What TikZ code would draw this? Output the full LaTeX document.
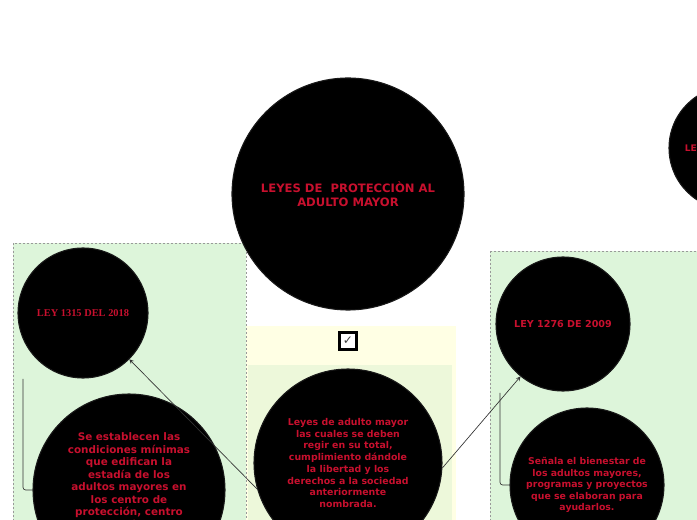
\documentclass[tikz,border=0pt]{standalone}
\usepackage{fontspec}
\setmainfont{DejaVu Sans}
\newfontfamily\serifb{Liberation Serif}
\newfontfamily\symb{DejaVu Sans}
\usetikzlibrary{arrows, calc}

\definecolor{leyred}{RGB}{200,16,46}
\definecolor{boxgreen}{RGB}{221,245,218}
\definecolor{boxyellow}{RGB}{255,255,228}
\definecolor{innergreen}{RGB}{237,248,218}
\definecolor{rimgray}{RGB}{25,25,25}

\begin{document}
\begin{tikzpicture}[x=0.75pt, y=-0.75pt, >=stealth,
        ley/.style={circle, fill=black, draw=rimgray, line width=0.8pt, inner sep=0pt,
                    text=leyred, font=\bfseries, align=center},
        area/.style={draw=gray!80, dash pattern=on 1.5pt off 1.5pt, line width=0.6pt},
        link/.style={draw=black!80, line width=0.5pt}]
    \useasboundingbox (0,0) rectangle (697,520);
    \clip (0,0) rectangle (697,520);
    % groups
    \fill[boxyellow] (246,326) rectangle (456,530);
    \fill[innergreen] (248,365) rectangle (452,530);
    \filldraw[fill=boxgreen, area] (13,243) rectangle (246,540);
    \filldraw[fill=boxgreen, area] (490,251) rectangle (710,540);
    % circles
    \node[ley, minimum size=174pt, font=\bfseries\fontsize{8.7}{10.5}\selectfont] (main) at (348,194)
        {LEYES DE\ \ PROTECCIÒN AL\\ADULTO MAYOR};
    \node[ley, minimum size=93pt, font=\bfseries\fontsize{6.8}{8}\selectfont] (ley3) at (731,148)
        {LEY 1251 DE 2008};
    \node[ley, minimum size=97.5pt, font=\serifb\bfseries\fontsize{7.8}{9}\selectfont] (l1315) at (83,313)
        {LEY 1315 DEL 2018};
    \node[ley, minimum size=144pt] (detL) at (129,490) {};
    \node[text=leyred, font=\bfseries\fontsize{7.8}{9.4}\selectfont, align=center, anchor=north] (txtL) at (129,428)
        {Se establecen las\\condiciones mínimas\\que edifican la\\estadía de los\\adultos mayores en\\los centro de\\protección, centro\\de día e};
    \node[ley, minimum size=141pt, font=\bfseries\fontsize{7.05}{8.8}\selectfont] (mid) at (348,463)
        {Leyes de adulto mayor\\las cuales se deben\\regir en su total,\\cumplimiento dándole\\la libertad y los\\derechos a la sociedad\\anteriormente\\nombrada.};
    \node[ley, minimum size=100.5pt, font=\bfseries\fontsize{7.2}{8}\selectfont] (l1276) at (563,324)
        {LEY 1276 DE 2009};
    \node[ley, minimum size=115.5pt, font=\bfseries\fontsize{7}{8.6}\selectfont] (detR) at (587,485)
        {Señala el bienestar de\\los adultos mayores,\\programas y proyectos\\que se elaboran para\\ayudarlos.};
    % checkbox
    \node[draw=black, fill=white, line width=2.2pt, minimum size=12.5pt, inner sep=0pt,
          font=\symb\fontsize{9}{9}\selectfont, text=black!75] (check) at (348,341) {✓};
    % connectors
    \draw[link, ->] (mid.196) -- (l1315.-45);
    \draw[link, ->] (mid.-3) -- (l1276.231);
    \coordinate (brL) at (23,379);
    \coordinate (brR) at (500,393);
    \draw[link, rounded corners=2pt] (brL) |- (detL.west);
    \draw[link, rounded corners=2pt] (brR) |- (detR.west);
\end{tikzpicture}
\end{document}
